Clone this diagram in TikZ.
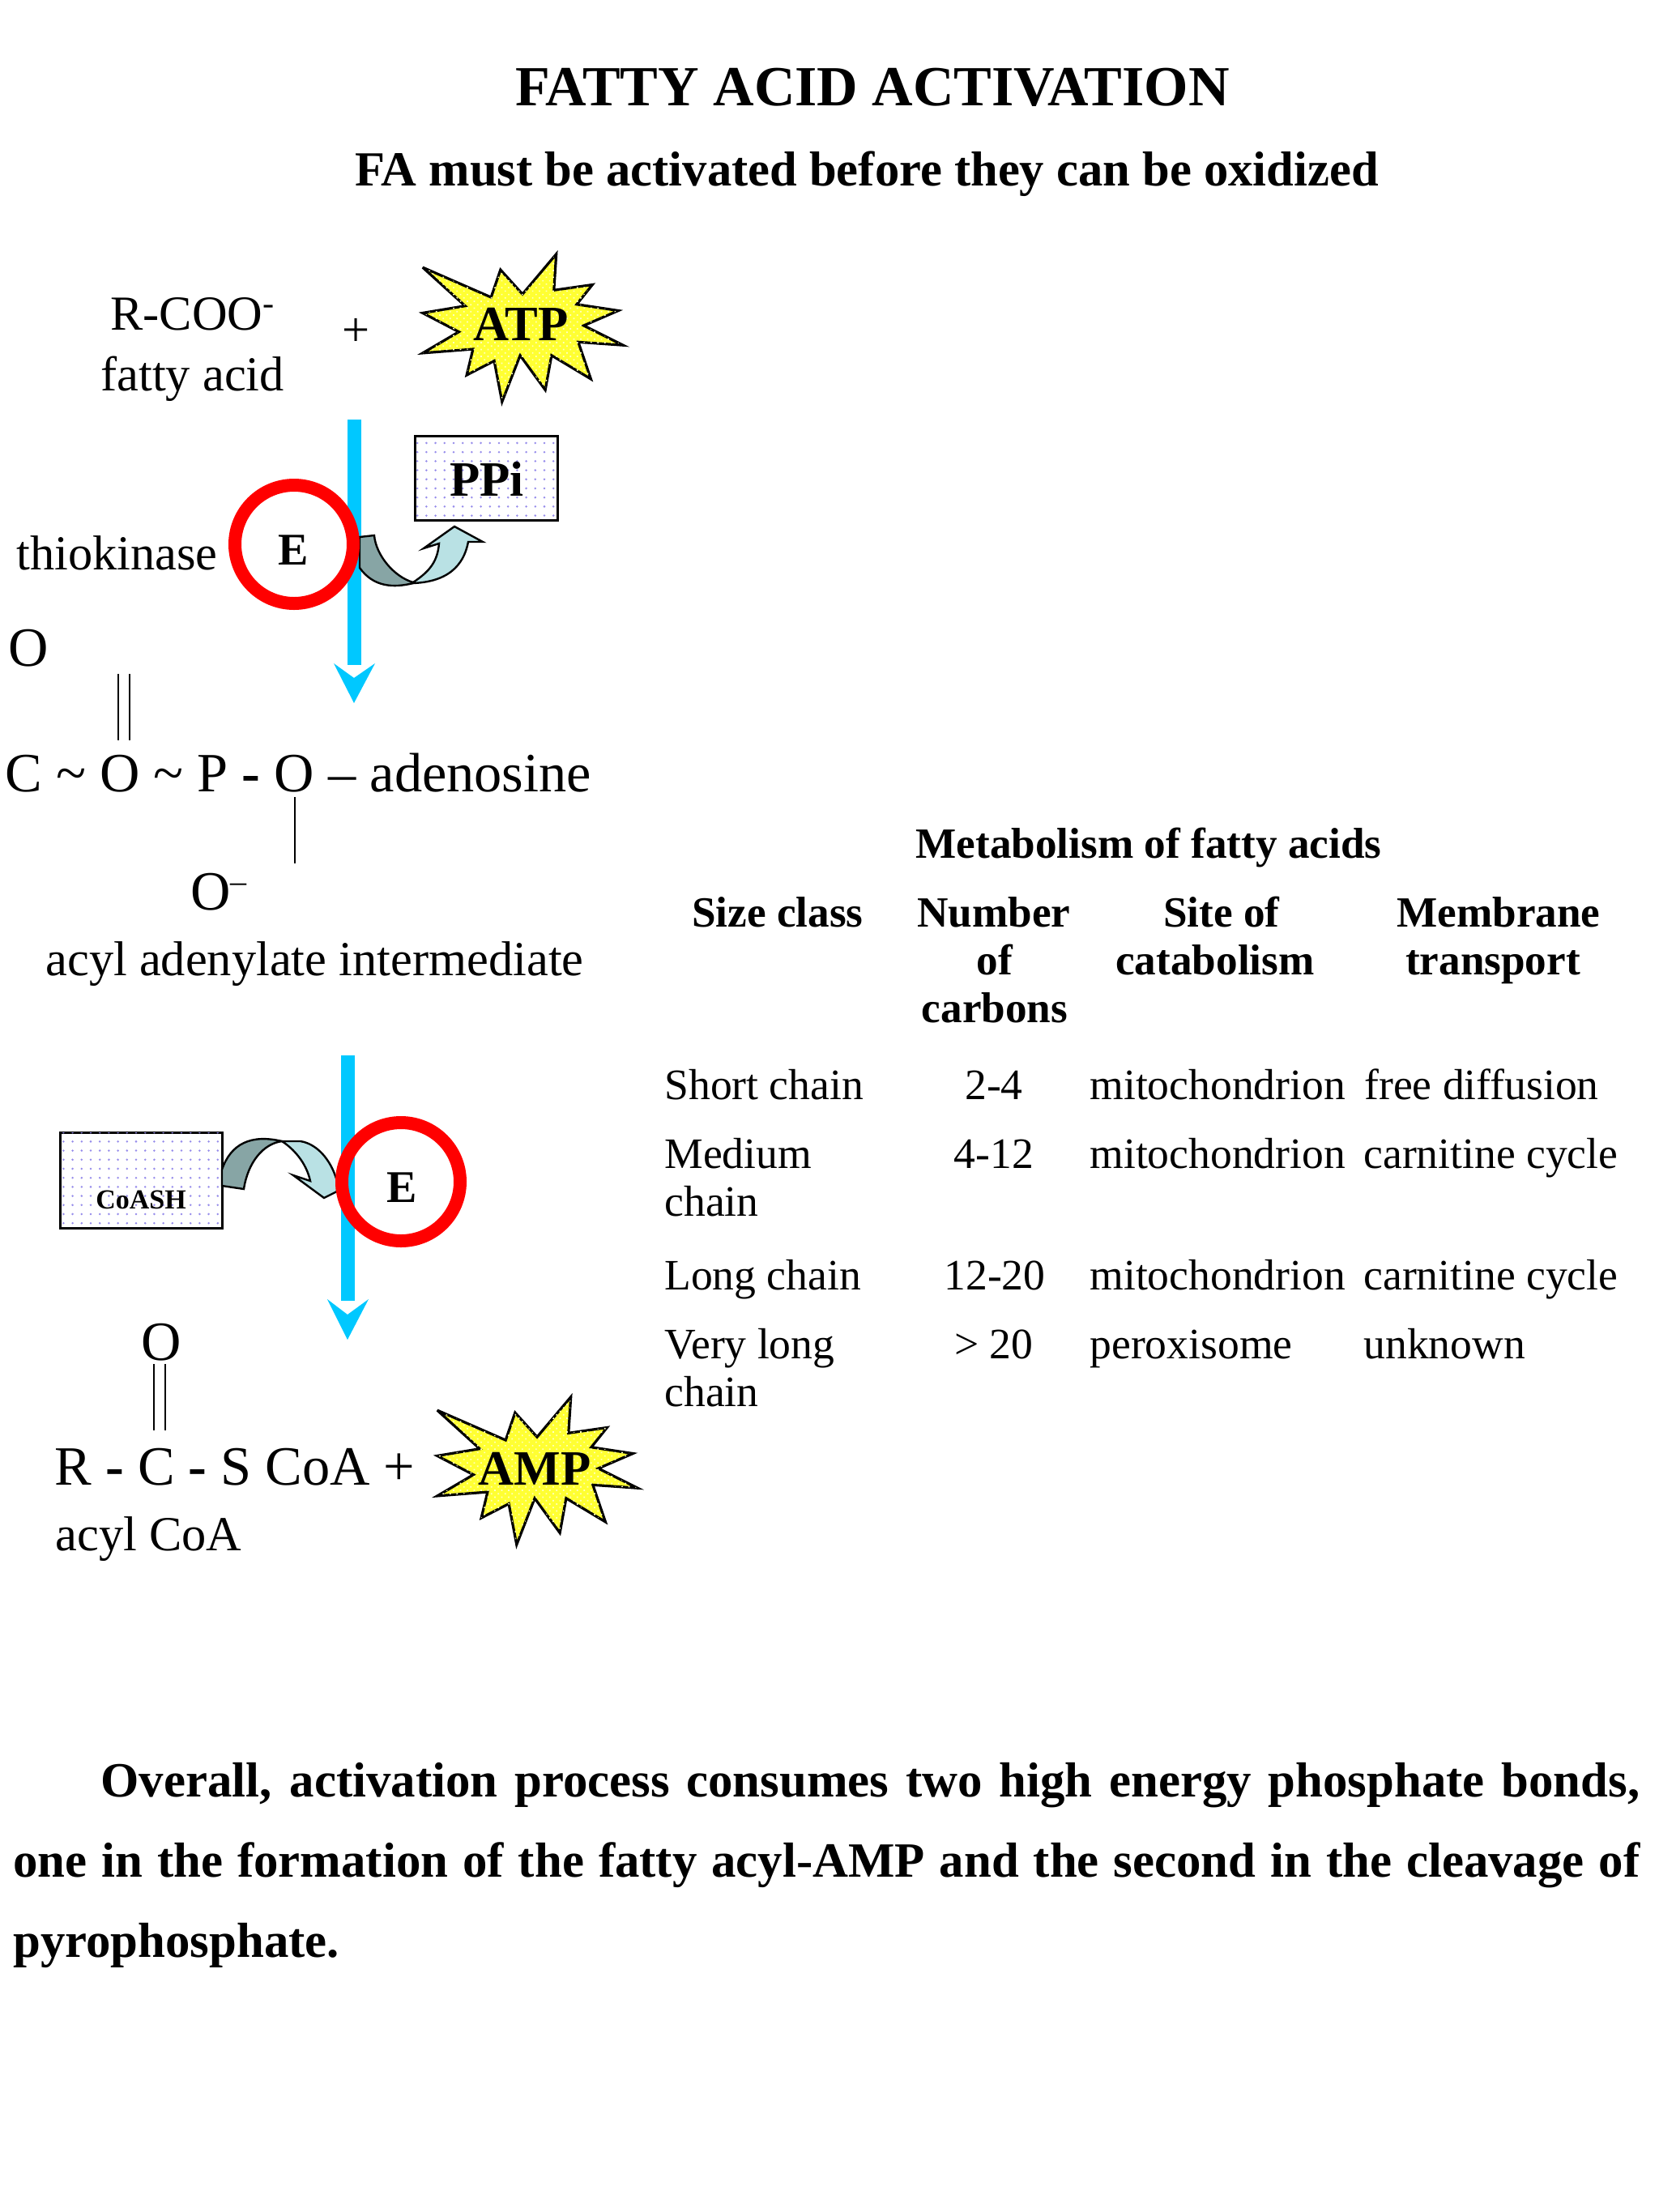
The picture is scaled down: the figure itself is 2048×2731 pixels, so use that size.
\documentclass[tikz,border=0pt]{standalone}
\usepackage{fontspec}
\setmainfont{Liberation Serif}
\usetikzlibrary{patterns.meta}
\definecolor{arrowblue}{RGB}{0,200,255}
\definecolor{burstyellow}{RGB}{255,255,50}
\definecolor{bendteal}{RGB}{135,165,165}
\definecolor{bendpale}{RGB}{185,225,228}
\definecolor{dotblue}{RGB}{150,140,235}
\tikzset{
 txt/.style={anchor=base west,inner sep=0pt,font=\fontsize{30.2}{30.2}\selectfont},
 big/.style={anchor=base west,inner sep=0pt,font=\fontsize{34.2}{34.2}\selectfont},
 cell/.style={anchor=base west,inner sep=0pt,font=\fontsize{26.8}{26.8}\selectfont},
 num/.style={anchor=base,inner sep=0pt,font=\fontsize{26.8}{26.8}\selectfont},
 head/.style={anchor=base,inner sep=0pt,font=\bfseries\fontsize{26.6}{26.6}\selectfont},
 blast/.style={anchor=base,inner sep=0pt,font=\bfseries\fontsize{30.5}{30.5}\selectfont},
 bond/.style={line width=1pt},
 ring/.style={line width=8pt,red},
 dotbox/.style={draw,line width=1.5pt,fill=white,postaction={pattern={Dots[distance=5.6pt,radius=0.7pt]},pattern color=dotblue}},
 bendarrow/.style={draw,line width=1.2pt},
 burst/.pic={
  \draw[line width=1.6pt,miter limit=6,fill=burstyellow,postaction={pattern={Dots[distance=3pt,radius=0.6pt,angle=45]},pattern color=white!70!burstyellow}]
  (43,-89)--(40,-43)--(89,-50)--(69,-25)--(122,-17)--(78,2)--(128,27)--(71,23)--(87,70)--(37,40)--(29,84)--(-3,40)--(-26,99)--(-36,47)--(-71,65)--(-63,32)--(-127,37)--(-81,10)--(-127,-14)--(-73,-23)--(-127,-72)--(-40,-34)--(-28,-69)--(0,-38)--cycle;
 }
}
\begin{document}
\begin{tikzpicture}[x=0.5pt,y=-0.5pt,line join=miter]
\useasboundingbox (0,0) rectangle (2048,2731);
% Title
\node[anchor=base,inner sep=0pt,font=\bfseries\fontsize{35}{35}\selectfont] (title) at (1077,130) {FATTY ACID ACTIVATION};
\node[anchor=base,inner sep=0pt,font=\bfseries\fontsize{30.3}{30.3}\selectfont] (subtitle) at (1070,229) {FA must be activated before they can be oxidized};
% First step
\node[txt] (rcoo) at (136,407) {R-COO\textsuperscript{-}};
\node[txt] (fatty) at (124,482) {fatty acid};
\node[txt] (plus) at (422,427) {+};
\pic[scale=0.97] at (645,400) {burst};
\node[blast] (atp) at (643,420) {ATP};
\fill[arrowblue] (429,518) rectangle (446,821);
\fill[arrowblue] (412,819) -- (437,837) -- (463,819) -- (437,868) -- cycle;
\node[dotbox,minimum width=88pt,minimum height=52pt,inner sep=0pt] (ppi) at (600,590) {};
\node[blast] (ppitext) at (601,612) {PPi};
% Bent arrow to PPi
\filldraw[bendarrow,fill=bendpale] (510,719) .. controls (531,705) and (540,693) .. (542,671) -- (523,677) -- (561,650) -- (596,669) -- (578,669) .. controls (574,690) and (561,718) .. (510,720) -- cycle;
\filldraw[bendarrow,fill=bendteal] (444,663) -- (462,661) .. controls (464,685) and (486,712) .. (510,719) -- (510,720) .. controls (486,726) and (461,725) .. (444,701) -- cycle;
\draw[ring] (363,672) circle (73);
\node[anchor=base,inner sep=0pt,font=\bfseries\fontsize{28}{28}\selectfont] (enzymeone) at (362,697) {E};
\node[txt] (thio) at (20,703) {thiokinase};
% Acyl adenylate
\node[big] (otop) at (10,822) {O};
\draw[bond] (146,832) -- (146,914);
\draw[bond] (160,832) -- (160,914);
\node[big] (adenyl) at (6,977) {C \textasciitilde{} O \textasciitilde{} P \textbf{-} O -- adenosine};
\draw[bond] (364,984) -- (364,1066);
\node[big] (ominus) at (235,1123) {O\raisebox{11pt}{\fontsize{20}{20}\selectfont --}};
\node[txt] (acyladen) at (56,1204) {acyl adenylate intermediate};
% Second step
\fill[arrowblue] (421,1303) rectangle (438,1606);
\fill[arrowblue] (404,1604) -- (429,1623) -- (455,1604) -- (429,1654) -- cycle;
\node[dotbox,minimum width=100pt,minimum height=59pt,inner sep=0pt] (coash) at (174,1457) {};
\node[anchor=base,inner sep=0pt,font=\bfseries\fontsize{17}{17}\selectfont] (coashtext) at (174,1492) {CoASH};
% Bent arrow from CoASH
\filldraw[bendarrow,fill=bendpale] (348,1409) .. controls (362,1418) and (378,1435) .. (383,1458) -- (362,1451) -- (400,1479) -- (416,1471) -- (416,1458) .. controls (408,1430) and (390,1412) .. (371,1409) -- cycle;
\filldraw[bendarrow,fill=bendteal] (274,1444) .. controls (285,1412) and (310,1400) .. (348,1409) .. controls (325,1412) and (306,1435) .. (301,1468) -- (274,1464) -- cycle;
\draw[ring] (495,1459) circle (73);
\node[anchor=base,inner sep=0pt,font=\bfseries\fontsize{28}{28}\selectfont] (enzymetwo) at (496,1484) {E};
% Acyl CoA
\node[big,anchor=base] (ocoa) at (199,1679) {O};
\draw[bond] (190,1684) -- (190,1766);
\draw[bond] (204,1684) -- (204,1766);
\node[big] (acylcoa) at (67,1833) {R \textbf{-} C \textbf{-} S CoA +};
\node[txt] (acylname) at (68,1914) {acyl CoA};
\pic[scale=0.97] at (663,1811) {burst};
\node[blast] (amp) at (660,1833) {AMP};
% Table
\node[head] (tabtitle) at (1418,1059) {Metabolism of fatty acids};
\node[head] (hsize) at (960,1144) {Size class};
\node[head] (hnum) at (1227,1144) {Number};
\node[head] (hof) at (1228,1203) {of};
\node[head] (hcarb) at (1228,1262) {carbons};
\node[head] (hsite) at (1508,1144) {Site of};
\node[head] (hcat) at (1500,1203) {catabolism};
\node[head] (hmem) at (1850,1144) {Membrane};
\node[head] (htrans) at (1843,1203) {transport};
\node[cell] (shortc) at (820,1357) {Short chain};
\node[num] (shortn) at (1227,1357) {2-4};
\node[cell] (shorts) at (1345,1357) {mitochondrion};
\node[cell] (shortt) at (1684,1357) {free diffusion};
\node[cell] (medc) at (820,1442) {Medium};
\node[cell] (medd) at (820,1501) {chain};
\node[num] (medn) at (1227,1442) {4-12};
\node[cell] (meds) at (1345,1442) {mitochondrion};
\node[cell] (medt) at (1683,1442) {carnitine cycle};
\node[cell] (longc) at (820,1592) {Long chain};
\node[num] (longn) at (1228,1592) {12-20};
\node[cell] (longs) at (1345,1592) {mitochondrion};
\node[cell] (longt) at (1683,1592) {carnitine cycle};
\node[cell] (vlongc) at (820,1677) {Very long};
\node[cell] (vlongd) at (820,1736) {chain};
\node[num] (vlongn) at (1227,1677) {> 20};
\node[cell] (vlongs) at (1345,1677) {peroxisome};
\node[cell] (vlongt) at (1683,1677) {unknown};
% Closing text
\node[anchor=north west,inner sep=0pt,text width=1004pt,align=justify,font=\bfseries\fontsize{30.4}{49.5}\selectfont] (closing) at (16,2176) {\hspace*{54pt}Overall, activation process consumes two high energy phosphate bonds,\linebreak one in the formation of the fatty acyl-AMP and the second in the cleavage of\linebreak pyrophosphate.};
\end{tikzpicture}
\end{document}
